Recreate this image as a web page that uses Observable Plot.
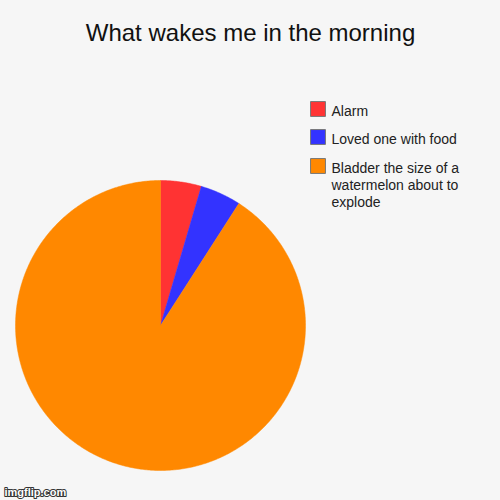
<!DOCTYPE html>
<html>
<head>
<meta charset="utf-8">
<script src="https://cdn.jsdelivr.net/npm/d3@7"></script>
<script src="https://cdn.jsdelivr.net/npm/@observablehq/plot@0.6"></script>
<style>
  html, body { margin: 0; padding: 0; background: #f6f6f6; }
  #chart svg { display: block; }
</style>
</head>
<body>
<div id="chart"></div>
<script>
const title = "What wakes me in the morning";
const categories = ["Alarm", "Loved one with food", "Bladder the size of a watermelon about to explode"];
const values = [1, 1, 20];
const colors = ["#ff3333", "#3333ff", "#ff8800"];
const watermark = "imgflip.com";

// Build slice outlines from the pie layout (start at 12 o'clock, clockwise)
const arcs = d3.pie().sort(null)(values);
const pts = [];
arcs.forEach((a, i) => {
  const cat = categories[i];
  const n = Math.max(2, Math.ceil((a.endAngle - a.startAngle) / 0.01));
  pts.push({cat, x: 0, y: 0});
  for (let k = 0; k <= n; k++) {
    const t = a.startAngle + (a.endAngle - a.startAngle) * k / n;
    pts.push({cat, x: Math.sin(t), y: Math.cos(t)});
  }
  pts.push({cat, x: 0, y: 0});
});

const font = "'Liberation Sans', Arial, sans-serif";
const cx = 160, cy = 325, R = 145, W = 500, H = 500;

const legendMarks = [];
const swatchY = [108.5, 136.5, 165.5];
categories.forEach((c, i) => {
  legendMarks.push(Plot.dot([c], {
    frameAnchor: "top-left", dx: 317.5, dy: swatchY[i],
    symbol: "square", r: 8.4, fill: d => d, stroke: "#777", strokeWidth: 1
  }));
  legendMarks.push(Plot.text([c], {
    frameAnchor: "top-left", dx: 331, dy: swatchY[i] - 4.5,
    text: d => d, textAnchor: "start", lineAnchor: "top",
    fontSize: 14, lineWidth: 10.4, lineHeight: 1.2, fill: "#222", fontFamily: font
  }));
});

const chart = Plot.plot({
  width: W, height: H,
  margin: 0,
  style: {background: "#f6f6f6", fontFamily: font},
  x: {domain: [-cx / R, (W - cx) / R], range: [0, W], axis: null},
  y: {domain: [-(H - cy) / R, cy / R], range: [H, 0], axis: null},
  color: {domain: categories, range: colors},
  marks: [
    Plot.line(pts, {x: "x", y: "y", z: "cat", fill: "cat", stroke: "cat", strokeWidth: 0.5, curve: "linear"}),
    Plot.text([title], {frameAnchor: "top", dy: 33, text: d => d, fontSize: 24, lineAnchor: "middle", fill: "#111", fontFamily: font}),
    ...legendMarks,
    Plot.text([watermark], {frameAnchor: "bottom-left", dx: 4, dy: -8, text: d => d, textAnchor: "start", lineAnchor: "middle",
      fontSize: 11, fontWeight: "bold", fill: "#fff", stroke: "#333", strokeWidth: 2, fontFamily: font})
  ]
});
document.getElementById("chart").appendChild(chart);
</script>
</body>
</html>
